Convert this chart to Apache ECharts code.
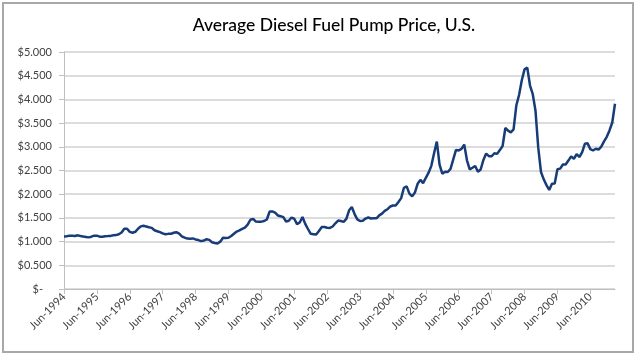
<!DOCTYPE html>
<html>
<head>
<meta charset="utf-8">
<script src="https://cdn.jsdelivr.net/npm/echarts@6/dist/echarts.min.js"></script>
<style>
  html, body { margin: 0; padding: 0; background: #fff; }
  #chart { width: 640px; height: 356px; }
</style>
</head>
<body>
<div id="chart"></div>
<script>
// Monthly average diesel pump price (USD/gal), Jun-1994 .. Mar-2011
const startYear = 1994;
const startMonth = 5; // June (0-based)
const monthNames = ['Jan','Feb','Mar','Apr','May','Jun','Jul','Aug','Sep','Oct','Nov','Dec'];

const p1994 = [1.109, 1.113, 1.126, 1.124, 1.120, 1.132, 1.117]; // Jun-Dec
const p1995 = [1.107, 1.099, 1.089, 1.104, 1.125, 1.125, 1.104, 1.104, 1.115, 1.117, 1.120, 1.135];
const p1996 = [1.137, 1.156, 1.192, 1.273, 1.271, 1.204, 1.186, 1.207, 1.271, 1.321, 1.334, 1.319];
const p1997 = [1.302, 1.289, 1.239, 1.219, 1.199, 1.173, 1.155, 1.163, 1.163, 1.186, 1.199, 1.169];
const p1998 = [1.112, 1.085, 1.063, 1.060, 1.067, 1.046, 1.032, 1.010, 1.023, 1.050, 1.036, 0.986];
const p1999 = [0.972, 0.960, 0.999, 1.079, 1.077, 1.081, 1.117, 1.167, 1.211, 1.235, 1.267, 1.294];
const p2000 = [1.356, 1.461, 1.479, 1.422, 1.420, 1.421, 1.434, 1.466, 1.634, 1.637, 1.613, 1.552];
const p2001 = [1.536, 1.516, 1.424, 1.441, 1.508, 1.482, 1.370, 1.404, 1.519, 1.374, 1.266, 1.164];
const p2002 = [1.156, 1.148, 1.222, 1.306, 1.307, 1.291, 1.288, 1.319, 1.386, 1.445, 1.434, 1.416];
const p2003 = [1.479, 1.661, 1.730, 1.581, 1.469, 1.434, 1.441, 1.486, 1.508, 1.487, 1.495, 1.491];
const p2004 = [1.553, 1.591, 1.648, 1.683, 1.740, 1.762, 1.760, 1.837, 1.917, 2.136, 2.166, 2.011];
const p2005 = [1.954, 2.034, 2.220, 2.302, 2.233, 2.346, 2.454, 2.598, 2.865, 3.110, 2.622, 2.434];
const p2006 = [2.475, 2.468, 2.535, 2.736, 2.934, 2.924, 2.956, 3.047, 2.715, 2.524, 2.558, 2.596];
const p2007 = [2.474, 2.521, 2.723, 2.857, 2.802, 2.800, 2.864, 2.851, 2.931, 3.018, 3.397, 3.341];
const p2008 = [3.305, 3.369, 3.870, 4.094, 4.403, 4.634, 4.671, 4.292, 4.109, 3.759, 2.982, 2.469];
const p2009 = [2.314, 2.191, 2.089, 2.220, 2.226, 2.526, 2.539, 2.626, 2.627, 2.709, 2.798, 2.747];
const p2010 = [2.843, 2.785, 2.883, 3.063, 3.073, 2.951, 2.922, 2.958, 2.942, 3.004, 3.114, 3.211];
const p2011 = [3.345, 3.512, 3.908]; // Jan-Mar

const prices = [].concat(p1994, p1995, p1996, p1997, p1998, p1999, p2000, p2001,
  p2002, p2003, p2004, p2005, p2006, p2007, p2008, p2009, p2010, p2011);

const categories = prices.map(function (_, i) {
  const m = startMonth + i;
  return monthNames[m % 12] + '-' + (startYear + Math.floor(m / 12));
});

const yTicks = [0, 0.5, 1, 1.5, 2, 2.5, 3, 3.5, 4, 4.5, 5];

const labelFont = 'Lato, "Liberation Sans", Arial, sans-serif';
const chart = echarts.init(document.getElementById('chart'), null, { renderer: 'canvas' });

chart.setOption({
  animation: false,
  backgroundColor: '#ffffff',
  graphic: [
    {
      type: 'rect', silent: true, z: -1,
      shape: { x: 3, y: 3, width: 630, height: 349 },
      style: { fill: 'none', stroke: '#a8a8a8', lineWidth: 2 }
    },
    {
      type: 'text', silent: true,
      x: 334, y: 25,
      style: {
        text: 'Average Diesel Fuel Pump Price, U.S.',
        fill: '#000000',
        font: '500 17.5px Lato, "Liberation Sans", Arial, sans-serif',
        align: 'center', verticalAlign: 'middle'
      }
    }
  ],
  grid: { left: 64, right: 25, top: 52, bottom: 67, containLabel: false },
  xAxis: {
    type: 'category',
    data: categories,
    boundaryGap: false,
    axisLine: { show: true, lineStyle: { color: '#bfbfbf', width: 1 } },
    axisTick: {
      show: true, length: 5,
      interval: function (i) { return i % 12 === 0; },
      lineStyle: { color: '#bfbfbf' }
    },
    axisLabel: {
      interval: function (i) { return i % 12 === 0; },
      rotate: 45,
      margin: 6,
      color: '#404040',
      fontSize: 11,
      fontFamily: labelFont
    },
    splitLine: { show: false }
  },
  yAxis: {
    type: 'value',
    min: 0, max: 5, interval: 0.5,
    axisLine: { show: true, lineStyle: { color: '#bfbfbf', width: 1 } },
    axisTick: { show: true, length: 5, lineStyle: { color: '#bfbfbf' } },
    axisLabel: {
      margin: 12,
      color: '#404040',
      fontSize: 11,
      fontFamily: labelFont,
      formatter: function (v) {
        if (yTicks.indexOf(v) < 0) return '';
        return v === 0 ? '{z|$-}' : '$' + v.toFixed(3);
      },
      rich: { z: { fontSize: 11, fontFamily: labelFont, color: '#404040', padding: [0, 9, 0, 0] } }
    },
    splitLine: { show: true, lineStyle: { color: '#d0d0d0', width: 1.5 } }
  },
  series: [{
    type: 'line',
    data: prices,
    showSymbol: false,
    smooth: false,
    lineStyle: { color: '#173C78', width: 2.5 },
    itemStyle: { color: '#173C78' }
  }]
});
</script>
</body>
</html>
